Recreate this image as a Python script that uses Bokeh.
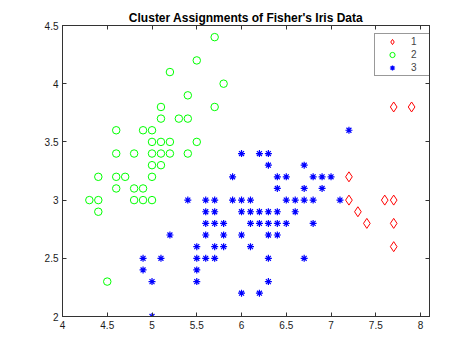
from bokeh.plotting import figure
from bokeh.models import Range1d, LinearAxis, FixedTicker, Legend, LegendItem
from bokeh.embed import file_html
from bokeh.resources import INLINE

# Cluster 1 (red diamonds)
c1_x = [7.2, 7.2, 7.3, 7.4, 7.6, 7.7, 7.7, 7.7, 7.7, 7.9]
c1_y = [3.2, 3.0, 2.9, 2.8, 3.0, 3.0, 2.8, 2.6, 3.8, 3.8]

# Cluster 2 (green circles)
c2_x = [5.7, 5.5, 5.2, 5.8, 5.4, 5.1, 5.7, 5.1, 5.3, 5.4, 4.6, 4.9, 5.0,
        5.0, 5.1, 5.2, 5.5, 4.6, 4.8, 5.0, 5.1, 5.2, 5.4, 5.0, 5.1,
        4.4, 4.6, 4.7, 5.0, 4.6, 4.8, 4.9, 4.3, 4.4, 4.8, 4.9, 5.0, 4.4, 4.5]
c2_y = [4.4, 4.2, 4.1, 4.0, 3.9, 3.8, 3.8, 3.7, 3.7, 3.7, 3.6, 3.6, 3.6,
        3.5, 3.5, 3.5, 3.5, 3.4, 3.4, 3.4, 3.4, 3.4, 3.4, 3.3, 3.3,
        3.2, 3.2, 3.2, 3.2, 3.1, 3.1, 3.1, 3.0, 3.0, 3.0, 3.0, 3.0, 2.9, 2.3]

# Cluster 3 (blue asterisks)
c3_x = [7.2,
        6.0, 6.2, 6.3,
        6.3, 6.7,
        5.9, 6.4, 6.5, 6.8, 6.9, 7.0,
        6.4, 6.7, 6.9,
        5.4, 5.6, 5.7, 5.9, 6.0, 6.1, 6.5, 6.6, 6.7, 6.8, 7.1,
        5.6, 5.7, 6.0, 6.1, 6.2, 6.3, 6.4, 6.6,
        5.6, 5.7, 5.8, 6.1, 6.2, 6.3, 6.4, 6.5, 6.8,
        5.2, 5.6, 5.8, 6.0, 6.3, 6.4,
        5.5, 5.7, 5.8, 6.1,
        4.9, 5.1, 5.5, 5.6, 5.7, 6.3, 6.7,
        4.9, 5.5,
        5.0, 5.5, 6.3,
        6.0, 6.2,
        5.0]
c3_y = [3.6,
        3.4, 3.4, 3.4,
        3.3, 3.3,
        3.2, 3.2, 3.2, 3.2, 3.2, 3.2,
        3.1, 3.1, 3.1,
        3.0, 3.0, 3.0, 3.0, 3.0, 3.0, 3.0, 3.0, 3.0, 3.0, 3.0,
        2.9, 2.9, 2.9, 2.9, 2.9, 2.9, 2.9, 2.9,
        2.8, 2.8, 2.8, 2.8, 2.8, 2.8, 2.8, 2.8, 2.8,
        2.7, 2.7, 2.7, 2.7, 2.7, 2.7,
        2.6, 2.6, 2.6, 2.6,
        2.5, 2.5, 2.5, 2.5, 2.5, 2.5, 2.5,
        2.4, 2.4,
        2.3, 2.3, 2.3,
        2.2, 2.2,
        2.0]

legend_labels = ["1", "2", "3"]
x_ticks = [4, 4.5, 5, 5.5, 6, 6.5, 7, 7.5, 8]
x_tick_labels = ["4", "4.5", "5", "5.5", "6", "6.5", "7", "7.5", "8"]
y_ticks = [2, 2.5, 3, 3.5, 4, 4.5]
y_tick_labels = ["2", "2.5", "3", "3.5", "4", "4.5"]

AX = "#333333"
FONT = "Liberation Sans"

p = figure(width=474, height=355, output_backend="svg", toolbar_location=None,
           x_range=Range1d(4, 8.1), y_range=Range1d(2, 4.5),
           min_border_left=62, min_border_right=45, min_border_top=25, min_border_bottom=39,
           title="Cluster Assignments of Fisher's Iris Data")
p.title.align = "center"
p.title.text_font = FONT
p.title.text_font_size = "12px"
p.title.text_font_style = "bold"
p.title.text_color = "black"
p.title.standoff = 2
p.grid.visible = False
p.outline_line_color = AX
p.background_fill_color = "white"
p.border_fill_color = "white"

def style_axis(ax, ticks, labels, show_labels=True):
    ax.ticker = FixedTicker(ticks=ticks)
    ax.axis_line_color = AX
    ax.major_tick_line_color = AX
    ax.major_tick_in = 4
    ax.major_tick_out = 0
    ax.minor_tick_line_color = None
    ax.major_label_text_font = FONT
    ax.major_label_text_color = "#1a1a1a"
    ax.major_label_text_font_size = "10px"
    if show_labels:
        ax.major_label_overrides = {t: l for t, l in zip(ticks, labels)}
        ax.major_label_standoff = 4
    else:
        ax.major_label_overrides = {t: "" for t in ticks}
        ax.major_label_standoff = 0

style_axis(p.xaxis[0], x_ticks, x_tick_labels)
style_axis(p.yaxis[0], y_ticks, y_tick_labels)
top = LinearAxis()
right = LinearAxis()
style_axis(top, x_ticks, x_tick_labels, False)
style_axis(right, y_ticks, y_tick_labels, False)
p.add_layout(top, "above")
p.add_layout(right, "right")

r1 = p.scatter(c1_x, c1_y, marker="diamond", size=10, fill_color=None, line_color="#ff0000", line_width=1)
r2 = p.scatter(c2_x, c2_y, marker="circle", size=7.5, fill_color=None, line_color="#00ff00", line_width=1)
r3 = p.scatter(c3_x, c3_y, marker="asterisk", size=7, fill_color=None, line_color="#0000ff", line_width=1.2)

legend = Legend(items=[LegendItem(label=legend_labels[0], renderers=[r1]),
                       LegendItem(label=legend_labels[1], renderers=[r2]),
                       LegendItem(label=legend_labels[2], renderers=[r3])],
                location=(312, 240), margin=0, padding=1, spacing=0,
                glyph_width=32, glyph_height=13, label_height=12, label_standoff=3,
                label_text_font=FONT, label_text_font_size="10px",
                border_line_color=AX, border_line_width=1,
                background_fill_color="white", background_fill_alpha=1)
p.add_layout(legend, "center")

open("out.html", "w").write(file_html(p, INLINE))
